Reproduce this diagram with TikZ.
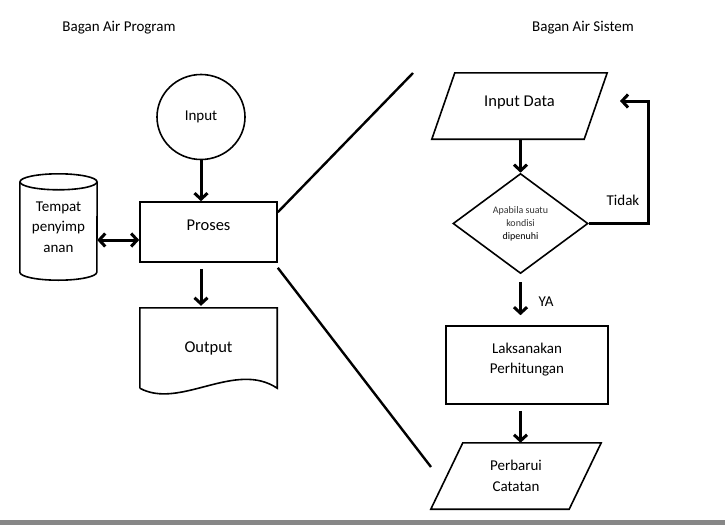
\documentclass[tikz,border=0pt]{standalone}
\usepackage{fontspec}
\setmainfont{Carlito}
\usetikzlibrary{arrows.meta,shapes.geometric}

\definecolor{barGray}{RGB}{135,135,135}

\begin{document}
\begin{tikzpicture}[x=1pt,y=-1pt,
  box/.style={draw,line width=1.6pt,inner sep=0pt,align=center,font=\fontsize{16.5}{20}\selectfont},
  plain/.style={inner sep=0pt,align=center,font=\fontsize{15}{20.5}\selectfont},
  title/.style={inner sep=0pt,font=\fontsize{15}{18}\selectfont},
  outline/.style={line width=1.6pt,line join=miter},
  arrow/.style={line width=3pt,line join=miter,-{Straight Barb[length=6pt,width=13pt]}},
  dblarrow/.style={line width=3pt,{Straight Barb[length=6pt,width=13pt]}-{Straight Barb[length=6pt,width=13pt]}},
  zoomline/.style={line width=2.4pt}]

\useasboundingbox (0,0) rectangle (725,525);

\node[title] (progtitle) at (119,28) {Bagan Air Program};
\node[title] (systitle) at (583,28) {Bagan Air Sistem};

% bagan air program
\node[box,ellipse,minimum width=88pt,minimum height=85pt,font=\fontsize{15}{18}\selectfont] (input) at (201,117) {Input};
\node[box,minimum width=137pt,minimum height=60pt,text depth=14pt] (proses) at (208.5,232) {Proses};
\node[plain,minimum width=77pt,minimum height=106pt] (store) at (58.5,227) {Tempat\\penyimp\\anan};
\node[plain,minimum width=137pt,minimum height=80pt,font=\fontsize{16.5}{20}\selectfont] (output) at (208.5,348) {Output};

\draw[outline] ([yshift=-8pt]store.north) ellipse[x radius=38.5,y radius=8];
\draw[outline] ([yshift=-8pt]store.north west) -- ([yshift=8pt]store.south west)
  arc[start angle=180,end angle=0,x radius=38.5,y radius=8] -- ([yshift=-8pt]store.north east);

\draw[outline] (output.south west) -- (output.north west) -- (output.north east) -- (output.south east)
  .. controls (235,360) and (180,410) .. (output.south west);

\draw[arrow] (input.south) -- (input.south |- proses.north);
\draw[arrow,shorten <=6pt,shorten >=2pt] (input.south |- proses.south) -- (input.south |- output.north);
\draw[dblarrow] ([yshift=-13pt]store.east) -- ([yshift=-8pt]proses.west);

\coordinate (zoomtop) at (413,73);
\coordinate (zoombot) at (431,467);
\draw[zoomline] ([yshift=-11pt]proses.north east) -- (zoomtop);
\draw[zoomline] ([yshift=-5pt]proses.south east) -- (zoombot);

% bagan air sistem
\node[plain,minimum width=175pt,minimum height=66pt,font=\fontsize{16.5}{20}\selectfont,text depth=10pt] (indata) at (519.5,106) {Input Data};
\node[box,diamond,minimum width=135pt,minimum height=100pt,font=\fontsize{10}{13}\selectfont] (cond) at (520.5,223.5)
  {\color{black!80}Apabila suatu\\\color{black!80}kondisi\\dipenuhi};
\node[box,minimum width=162pt,minimum height=78pt,font=\fontsize{15}{20}\selectfont,text depth=14pt] (act) at (527,365) {Laksanakan\\Perhitungan};
\node[plain,minimum width=170pt,minimum height=66pt,font=\fontsize{15}{21}\selectfont] (upd) at (516,476) {Perbarui\\Catatan};

\draw[outline] ([xshift=23pt]indata.north west) -- (indata.north east)
  -- ([xshift=-23pt]indata.south east) -- (indata.south west) -- cycle;
\draw[outline] ([xshift=32pt]upd.north west) -- (upd.north east)
  -- ([xshift=-32pt]upd.south east) -- (upd.south west) -- cycle;

\coordinate (loopcorner) at (648,101);
\coordinate (loopend) at (620,101);

\draw[arrow] (cond.north |- indata.south) -- (cond.north);
\draw[arrow] (cond.east) -| (loopcorner) -- (loopend);
\node[plain] (tidak) at (623,200) {Tidak};
\draw[arrow,shorten <=8pt,shorten >=10pt] (cond.south) -- (cond.south |- act.north);
\node[plain] (ya) at (546,302) {YA};
\draw[arrow,shorten <=6pt] (cond.south |- act.south) -- (cond.south |- upd.north);

\fill[barGray] (0,520) rectangle (725,525);

\end{tikzpicture}
\end{document}
